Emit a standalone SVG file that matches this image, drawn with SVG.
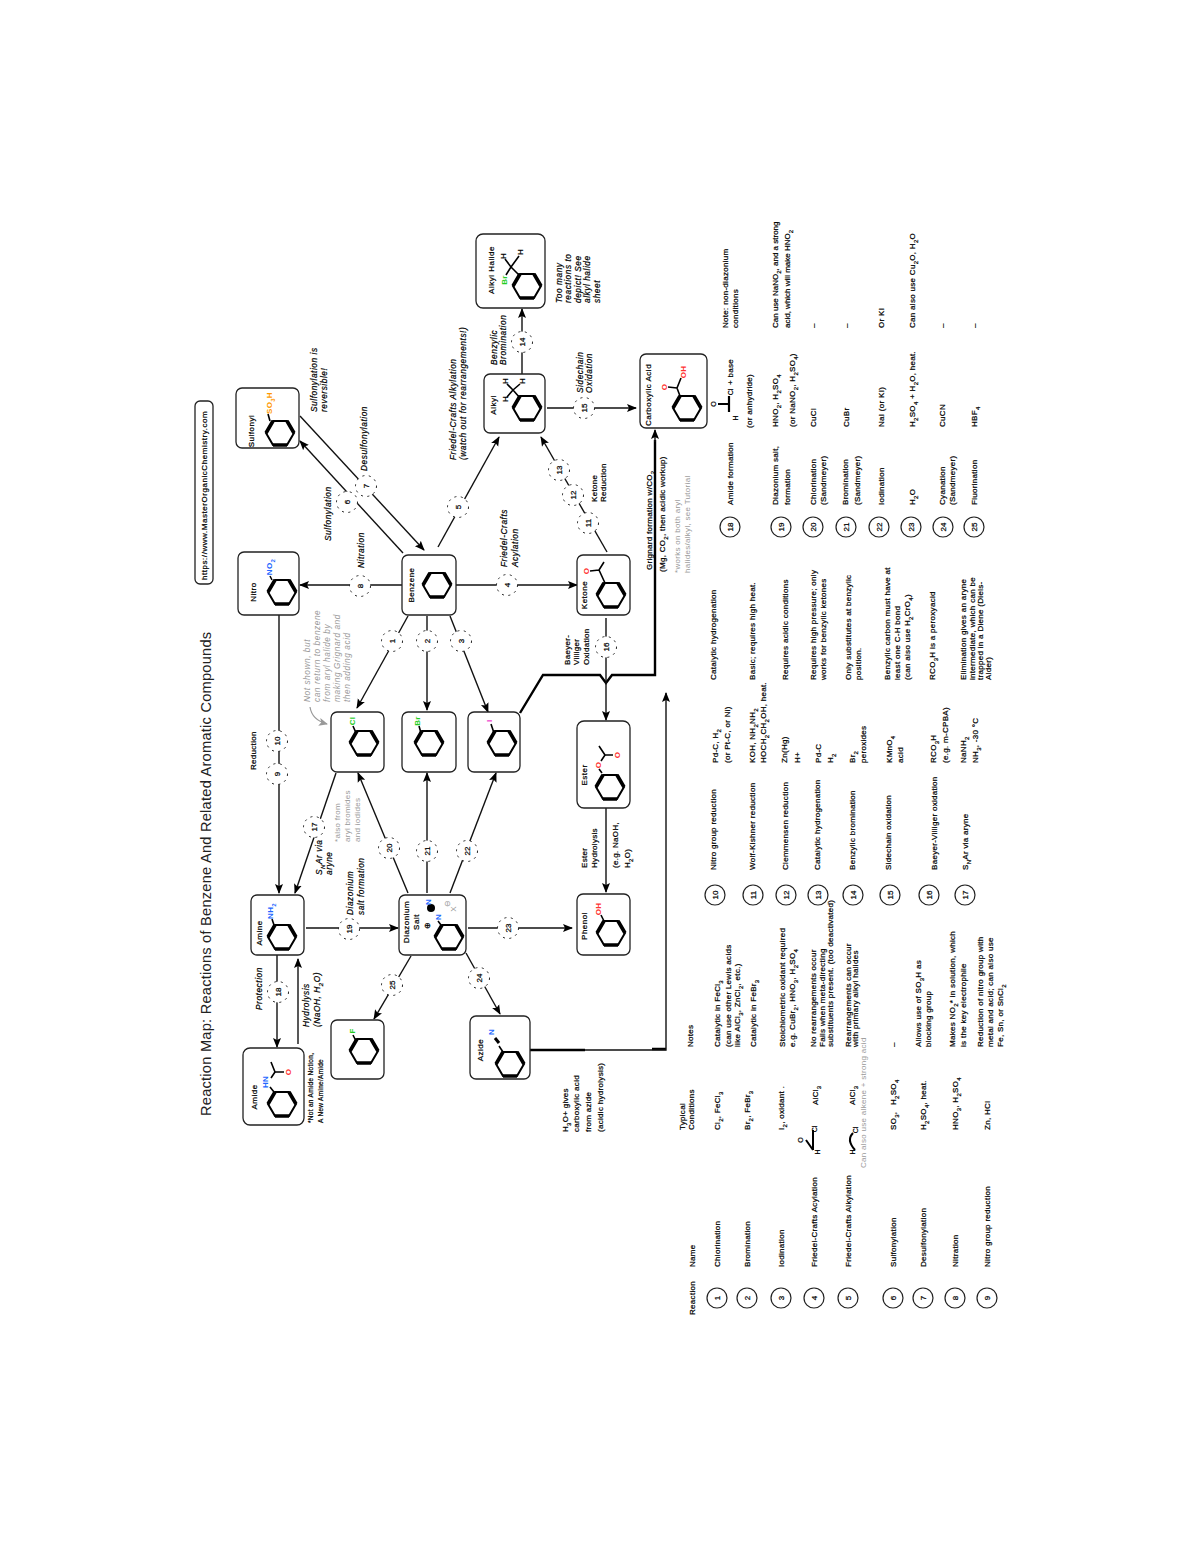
<svg xmlns="http://www.w3.org/2000/svg" xmlns:xlink="http://www.w3.org/1999/xlink" width="1200" height="1553" viewBox="0 0 1200 1553">
<style>
text{font-family:"Liberation Sans",Arial,sans-serif;font-size:8px;letter-spacing:.3px;fill:#000;stroke:#000;stroke-width:.22;transform:rotate(-90deg)}
.i{font-style:italic;letter-spacing:.55px;font-size:8.3px}
.n{letter-spacing:.5px;text-anchor:middle}
.m{text-anchor:middle;letter-spacing:0}
.g{fill:#999;stroke:none}
.s{baseline-shift:sub;font-size:6px}
.title{font-size:14.6px;letter-spacing:.25px;stroke:none;fill:#222}
.red{fill:#f33;stroke:none;font-weight:bold;text-anchor:middle}
.blue{fill:#26f;stroke:none;font-weight:bold;text-anchor:middle}
.green{fill:#2c2;stroke:none;font-weight:bold;text-anchor:middle}
.box{fill:#fff;stroke:#222;stroke-width:1.3}
.b{stroke:#000;stroke-width:1.6;fill:none}
.cn{stroke:#111;stroke-width:1.4;fill:none}
.cb{stroke:#000;stroke-width:2.4;fill:none}
.dc{fill:#fff;stroke:#222;stroke-width:1;stroke-dasharray:2 4.5}
.tc{fill:#fff;stroke:#222;stroke-width:1.2}
</style>
<defs>
<marker id="a" markerUnits="userSpaceOnUse" markerWidth="12" markerHeight="10" refX="9" refY="5" orient="auto"><path d="M0 1L10 5L0 9L2 5Z" fill="#000"/></marker>
<marker id="ag" markerUnits="userSpaceOnUse" markerWidth="12" markerHeight="10" refX="8" refY="5" orient="auto"><path d="M0 1L9 5L0 9L2 5Z" fill="#999"/></marker>
<g id="ring"><polygon points="-14,0 -7,-12 7,-12 14,0 7,12 -7,12" fill="none" stroke="#000" stroke-width="2"/><path d="M-7 12H7M7 -12L14 0M-14 0L-7 -12" stroke="#000" stroke-width="3.6" fill="none"/></g>
</defs>
<rect width="1200" height="1553" fill="#fff"/>

<g id="header">
<text class="title" x="-1116" y="211">Reaction Map: Reactions of Benzene And Related Aromatic Compounds</text>
<rect class="box" x="195" y="401" width="18" height="183" rx="5"/>
<text x="-580" y="207" style="letter-spacing:.55px">https://www.MasterOrganicChemistry.com</text>
</g>

<g id="connectors">
<path class="cn" marker-end="url(#a)" d="M402 585H300"/>
<path class="cn" marker-end="url(#a)" d="M403 553L300 441"/>
<path class="cn" marker-end="url(#a)" d="M300 416L424 550"/>
<path class="cn" marker-end="url(#a)" d="M438 547L499 437"/>
<path class="cn" marker-end="url(#a)" d="M456 585H577"/>
<path class="cn" marker-end="url(#a)" d="M522 374V309"/>
<path class="cn" marker-end="url(#a)" d="M547 408H636"/>
<path class="cn" marker-end="url(#a)" d="M607 552L541 437"/>
<path class="cn" marker-end="url(#a)" d="M279 615V893"/>
<path class="cn" marker-end="url(#a)" d="M336 773L295 893"/>
<path class="cn" marker-end="url(#a)" d="M408 893L358 773"/>
<path class="cn" marker-end="url(#a)" d="M427 893V773"/>
<path class="cn" marker-end="url(#a)" d="M450 893L496 773"/>
<path class="cn" marker-end="url(#a)" d="M408 616L357 708"/>
<path class="cn" marker-end="url(#a)" d="M427 616V710"/>
<path class="cn" marker-end="url(#a)" d="M450 616L488 712"/>
<path class="cb" d="M520 713L543 675H600L606 683L612 675H655V440"/>
<path class="cn" marker-end="url(#a)" d="M655 442V430"/>
<path class="cn" marker-end="url(#a)" d="M606 618V720"/>
<path class="cn" marker-end="url(#a)" d="M606 807V892"/>
<path class="cb" d="M530 1050H585M652 1049H666"/>
<path class="cn" marker-end="url(#a)" d="M585 1050H666V693"/>
<path class="cn" marker-end="url(#a)" d="M468 928H572"/>
<path class="cn" marker-end="url(#a)" d="M466 953L500 1014"/>
<path class="cn" marker-end="url(#a)" d="M411 956L374 1019"/>
<path class="cn" marker-end="url(#a)" d="M306 928H398"/>
<path class="cn" marker-end="url(#a)" d="M277 955V1047"/>
<path class="cn" marker-end="url(#a)" d="M298 1044V959"/>
<path fill="none" stroke="#999" stroke-width="1.2" marker-end="url(#ag)" d="M310 707Q312 720 327 724"/>
</g>

<g id="sulfonyl"><rect class="box" x="236" y="388" width="63" height="60" rx="6"/><use xlink:href="#ring" href="#ring" x="280" y="433"/><path class="b" d="M270 421L268 414"/>
<text class="n" x="-431" y="254">Sulfonyl</text><text x="-414" y="272" style="fill:#f90;stroke:none;font-weight:bold">SO<tspan class="s">3</tspan>H</text></g>
<g id="nitro"><rect class="box" x="238" y="552" width="61" height="63" rx="6"/><use xlink:href="#ring" href="#ring" x="282" y="592"/><path class="b" d="M272 580L270 576"/>
<text class="n" x="-592" y="256">Nitro</text><text class="blue" x="-567" y="272">NO<tspan class="s">2</tspan></text></g>
<g id="benzene"><rect class="box" x="402" y="555" width="54" height="60" rx="6"/><use xlink:href="#ring" href="#ring" x="437" y="585"/>
<text class="n" x="-585" y="414">Benzene</text></g>
<g id="alkylhalide"><rect class="box" x="476" y="234" width="69" height="74" rx="7"/><use xlink:href="#ring" href="#ring" x="527" y="286"/><path class="b" d="M520 276L511 267M511 267L505 259M511 267L519 256M511 267L506 275"/>
<text class="n" x="-270" y="494">Alkyl Halide</text><text class="green" x="-280" y="507">Br</text><text class="m" x="-256" y="506">H</text><text class="m" x="-252" y="523">H</text></g>
<g id="alkyl"><rect class="box" x="484" y="374" width="61" height="59" rx="6"/><use xlink:href="#ring" href="#ring" x="527" y="408"/><path class="b" d="M520 398L513 390M513 390L507 384M513 390L520 384M513 390L507 397"/>
<text class="n" x="-405" y="496">Alkyl</text><text class="m" x="-381" y="508">H</text><text class="m" x="-381" y="525">H</text><text class="m" x="-399" y="508">H</text></g>
<g id="carboxylic"><rect class="box" x="640" y="354" width="67" height="74" rx="6"/><use xlink:href="#ring" href="#ring" x="687" y="408"/><path class="b" d="M680 396L677 388M677 388L668 387M677 388L681 378"/>
<text class="n" x="-395" y="651">Carboxylic Acid</text><text class="red" x="-387" y="667">O</text><text class="red" x="-372" y="686">OH</text></g>
<g id="ketone"><rect class="box" x="577" y="555" width="53" height="60" rx="6"/><use xlink:href="#ring" href="#ring" x="611" y="595"/><path class="b" d="M605 583L599 570M599 570L590 571M599 570L604 562"/>
<text class="n" x="-595" y="587">Ketone</text><text class="red" x="-571" y="589">O</text></g>
<g id="chloro"><rect class="box" x="331" y="712" width="53" height="60" rx="6"/><use xlink:href="#ring" href="#ring" x="364" y="743"/><path class="b" d="M356 733L353 726"/>
<text class="green" x="-721" y="355">Cl</text></g>
<g id="bromo"><rect class="box" x="402" y="712" width="54" height="60" rx="6"/><use xlink:href="#ring" href="#ring" x="429" y="743"/><path class="b" d="M421 733L419 726"/>
<text class="green" x="-721" y="420">Br</text></g>
<g id="iodo"><rect class="box" x="468" y="712" width="52" height="60" rx="6"/><use xlink:href="#ring" href="#ring" x="502" y="743"/><path class="b" d="M494 733L491 724"/>
<text x="-722" y="492" style="fill:#e3c;stroke:none;font-weight:bold">I</text></g>
<g id="ester"><rect class="box" x="577" y="721" width="53" height="87" rx="7"/><use xlink:href="#ring" href="#ring" x="610" y="787"/><path class="b" d="M602 773L599 769M601 761L605 755M605 755L613 755M605 755L599 746"/>
<text class="n" x="-775" y="587">Ester</text><text class="red" x="-765" y="601">O</text><text class="red" x="-755" y="620">O</text></g>
<g id="phenol"><rect class="box" x="577" y="894" width="53" height="61" rx="6"/><use xlink:href="#ring" href="#ring" x="611" y="933"/><path class="b" d="M604 921L601 915"/>
<text class="n" x="-926" y="587">Phenol</text><text class="red" x="-909" y="601">OH</text></g>
<g id="diazonium"><rect class="box" x="399" y="895" width="67" height="60" rx="6"/><use xlink:href="#ring" href="#ring" x="449" y="937"/><path class="b" d="M441 925L438 921"/><circle cx="431" cy="908" r="4"/>
<text class="n" x="-922" y="409">Diazonium</text><text class="n" x="-922" y="419">Salt</text><text class="blue" x="-902" y="431">N</text><text class="blue" x="-917" y="441">N</text><text class="m" x="-925" y="430">⊕</text><text class="m g" x="-903" y="450">⊖</text><text class="m g" x="-909" y="456">X</text></g>
<g id="amine"><rect class="box" x="251" y="895" width="53" height="60" rx="6"/><use xlink:href="#ring" href="#ring" x="282" y="937"/><path class="b" d="M274 925L272 919"/>
<text class="n" x="-933" y="262">Amine</text><text class="blue" x="-911" y="273">NH<tspan class="s">2</tspan></text></g>
<g id="amide"><rect class="box" x="243" y="1048" width="61" height="77" rx="7"/><use xlink:href="#ring" href="#ring" x="282" y="1104"/><path class="b" d="M274 1092L270 1087M271 1078L275 1072M275 1072L284 1072M275 1072L271 1062"/>
<text class="n" x="-1097" y="257">Amide</text><text class="blue" x="-1082" y="268">HN</text><text class="red" x="-1072" y="291">O</text></g>
<g id="fluoro"><rect class="box" x="331" y="1020" width="53" height="59" rx="6"/><use xlink:href="#ring" href="#ring" x="364" y="1051"/><path class="b" d="M356 1041L353 1035"/>
<text class="green" x="-1031" y="355">F</text></g>
<g id="azide"><rect class="box" x="470" y="1016" width="60" height="63" rx="6"/><use xlink:href="#ring" href="#ring" x="510" y="1064"/><path class="b" d="M503 1052L499 1046"/><path d="M495 1038L499 1043" stroke="#000" stroke-width="3"/>
<text class="n" x="-1050" y="483">Azide</text><text class="blue" x="-1032" y="494">N</text></g>

<g id="steps">
<g><circle class="dc" cx="392" cy="641" r="10.5"/><text class="m" x="-641" y="395">1</text></g>
<g><circle class="dc" cx="427" cy="641" r="10.5"/><text class="m" x="-641" y="430">2</text></g>
<g><circle class="dc" cx="461" cy="641" r="10.5"/><text class="m" x="-641" y="464">3</text></g>
<g><circle class="dc" cx="507" cy="585" r="10.5"/><text class="m" x="-585" y="510">4</text></g>
<g><circle class="dc" cx="458" cy="507" r="10.5"/><text class="m" x="-507" y="461">5</text></g>
<g><circle class="dc" cx="347" cy="502" r="10.5"/><text class="m" x="-502" y="350">6</text></g>
<g><circle class="dc" cx="366" cy="486" r="10.5"/><text class="m" x="-486" y="369">7</text></g>
<g><circle class="dc" cx="360" cy="586" r="10.5"/><text class="m" x="-586" y="363">8</text></g>
<g><circle class="dc" cx="277" cy="774" r="10.5"/><text class="m" x="-774" y="280">9</text></g>
<g><circle class="dc" cx="277" cy="741" r="10.5"/><text class="m" x="-741" y="280">10</text></g>
<g><circle class="dc" cx="588" cy="523" r="10.5"/><text class="m" x="-523" y="591">11</text></g>
<g><circle class="dc" cx="573" cy="495" r="10.5"/><text class="m" x="-495" y="576">12</text></g>
<g><circle class="dc" cx="559" cy="470" r="10.5"/><text class="m" x="-470" y="562">13</text></g>
<g><circle class="dc" cx="522" cy="342" r="10.5"/><text class="m" x="-342" y="525">14</text></g>
<g><circle class="dc" cx="584" cy="408" r="10.5"/><text class="m" x="-408" y="587">15</text></g>
<g><circle class="dc" cx="606" cy="647" r="10.5"/><text class="m" x="-647" y="609">16</text></g>
<g><circle class="dc" cx="314" cy="827" r="10.5"/><text class="m" x="-827" y="317">17</text></g>
<g><circle class="dc" cx="278" cy="992" r="10.5"/><text class="m" x="-992" y="281">18</text></g>
<g><circle class="dc" cx="349" cy="929" r="10.5"/><text class="m" x="-929" y="352">19</text></g>
<g><circle class="dc" cx="389" cy="848" r="10.5"/><text class="m" x="-848" y="392">20</text></g>
<g><circle class="dc" cx="427" cy="851" r="10.5"/><text class="m" x="-851" y="430">21</text></g>
<g><circle class="dc" cx="467" cy="851" r="10.5"/><text class="m" x="-851" y="470">22</text></g>
<g><circle class="dc" cx="508" cy="928" r="10.5"/><text class="m" x="-928" y="511">23</text></g>
<g><circle class="dc" cx="479" cy="978" r="10.5"/><text class="m" x="-978" y="482">24</text></g>
<g><circle class="dc" cx="392" cy="985" r="10.5"/><text class="m" x="-985" y="395">25</text></g>
</g>

<g id="edge-labels">
<text class="i" x="-541" y="331">Sulfonylation</text>
<text class="i" x="-412" y="317">Sulfonylation is</text>
<text class="i" x="-412" y="327">reversible!</text>
<text class="i" x="-471" y="367">Desulfonylation</text>
<text class="i" x="-568" y="364">Nitration</text>
<text class="i" x="-460" y="456">Friedel-Crafts Alkylation</text>
<text class="i" x="-460" y="466">(watch out for rearrangements!)</text>
<text class="i" x="-365" y="497">Benzylic</text>
<text class="i" x="-365" y="506">Bromination</text>
<text class="i" x="-303" y="562">Too many</text>
<text class="i" x="-303" y="571">reactions to</text>
<text class="i" x="-303" y="581">depict! See</text>
<text class="i" x="-303" y="590">alkyl halide</text>
<text class="i" x="-303" y="600">sheet</text>
<text class="i" x="-393" y="583">Sidechain</text>
<text class="i" x="-393" y="592">Oxidation</text>
<text x="-502" y="597">Ketone</text>
<text x="-502" y="606">Reduction</text>
<text class="i" x="-567" y="507">Friedel-Crafts</text>
<text class="i" x="-567" y="518">Acylation</text>
<text x="-570" y="652">Grignard formation w/CO<tspan class="s">2</tspan></text>
<text x="-572" y="665">(Mg, CO<tspan class="s">2</tspan>, then acidic workup)</text>
<text class="g" x="-573" y="680">*works on both aryl</text>
<text class="g" x="-573" y="690">halides/alkyl, see Tutorial</text>
<text x="-665" y="570">Baeyer-</text>
<text x="-665" y="579">Villiger</text>
<text x="-665" y="589">Oxidation</text>
<text x="-868" y="587">Ester</text>
<text x="-868" y="597">Hydrolysis</text>
<text x="-868" y="618">(e.g. NaOH,</text>
<text x="-868" y="630">H<tspan class="s">2</tspan>O)</text>
<text class="i g" x="-702" y="310">Not shown, but</text>
<text class="i g" x="-702" y="320">can return to benzene</text>
<text class="i g" x="-702" y="330">from aryl halide by</text>
<text class="i g" x="-702" y="340">making Grignard and</text>
<text class="i g" x="-702" y="350">then adding acid</text>
<text x="-770" y="256">Reduction</text>
<text class="i" x="-875" y="322">S<tspan class="s">N</tspan>Ar via</text>
<text class="i" x="-875" y="332">aryne</text>
<text class="g" x="-842" y="340">*also from</text>
<text class="g" x="-842" y="350">aryl bromides</text>
<text class="g" x="-842" y="360">and iodides</text>
<text class="i" x="-915" y="353">Diazonium</text>
<text class="i" x="-915" y="364">salt formation</text>
<text class="i" x="-1010" y="262">Protection</text>
<text class="i" x="-1027" y="309">Hydrolysis</text>
<text class="i" x="-1027" y="320">(NaOH, H<tspan class="s">2</tspan>O)</text>
<text x="-1123" y="313" style="font-size:6.5px">*Not an Amide Notion,</text>
<text x="-1123" y="323" style="font-size:6.5px">A New Amine/Amide</text>
<text x="-1132" y="568">H<tspan class="s">3</tspan>O+ gives</text>
<text x="-1132" y="579">carboxylic acid</text>
<text x="-1132" y="591">from azide</text>
<text x="-1132" y="603">(acidic hydrolysis)</text>
</g>

<g id="table-1">
<text x="-1315" y="695">Reaction</text><text x="-1267" y="695">Name</text><text x="-1130" y="685">Typical</text><text x="-1130" y="694">Conditions</text><text x="-1047" y="693">Notes</text>
<g><circle class="tc" cx="717" cy="1298" r="10"/><text class="m" x="-1298" y="720">1</text><text x="-1267" y="720">Chlorination</text><text x="-1130" y="720">Cl<tspan class="s">2</tspan>, FeCl<tspan class="s">3</tspan></text><text x="-1047" y="720">Catalytic in FeCl<tspan class="s">3</tspan></text><text x="-1047" y="731">(can use other Lewis acids</text><text x="-1047" y="740">like AlCl<tspan class="s">3</tspan>, ZnCl<tspan class="s">2</tspan>, etc.)</text></g>
<g><circle class="tc" cx="747" cy="1298" r="10"/><text class="m" x="-1298" y="750">2</text><text x="-1267" y="750">Bromination</text><text x="-1130" y="750">Br<tspan class="s">2</tspan>, FeBr<tspan class="s">3</tspan></text><text x="-1047" y="756">Catalytic in FeBr<tspan class="s">3</tspan></text></g>
<g><circle class="tc" cx="781" cy="1298" r="10"/><text class="m" x="-1298" y="784">3</text><text x="-1267" y="784">Iodination</text><text x="-1130" y="784">I<tspan class="s">2</tspan>, oxidant .</text><text x="-1047" y="785">Stoichiometric oxidant required</text><text x="-1047" y="795">e.g. CuBr<tspan class="s">2</tspan>, HNO<tspan class="s">3</tspan>, H<tspan class="s">2</tspan>SO<tspan class="s">4</tspan></text></g>
<g><circle class="tc" cx="814" cy="1298" r="10"/><text class="m" x="-1298" y="817">4</text><text x="-1267" y="817">Friedel-Crafts Acylation</text><text class="m" x="-1140" y="803" style="font-size:7px">O</text><text class="m" x="-1129" y="817" style="font-size:7px">Cl</text><text class="m" x="-1152" y="820" style="font-size:7px">H</text><path d="M813 1150L806 1140M813 1130L813 1150" stroke="#000" stroke-width="2" fill="none"/><text x="-1105" y="818">AlCl<tspan class="s">3</tspan></text><text x="-1047" y="816">No rearrangements occur</text><text x="-1047" y="825">Fails when meta-directing</text><text x="-1047" y="833">substituents present. (too deactivated)</text></g>
<g><circle class="tc" cx="848" cy="1298" r="10"/><text class="m" x="-1298" y="851">5</text><text x="-1267" y="851">Friedel-Crafts Alkylation</text><path d="M855 1150Q846 1140 853 1133" stroke="#000" stroke-width="2" fill="none"/><text class="m" x="-1130" y="858" style="font-size:7px">Cl</text><text class="m" x="-1152" y="855" style="font-size:7px">H</text><text x="-1105" y="855">AlCl<tspan class="s">3</tspan></text><text x="-1047" y="851">Rearrangements can occur</text><text x="-1047" y="858">with primary alkyl halides</text></g>
<text class="g" x="-1168" y="866">Can also use alkene + strong acid</text>
<g><circle class="tc" cx="893" cy="1298" r="10"/><text class="m" x="-1298" y="896">6</text><text x="-1267" y="896">Sulfonylation</text><text x="-1130" y="896">SO<tspan class="s">3</tspan>,</text><text x="-1105" y="896">H<tspan class="s">2</tspan>SO<tspan class="s">4</tspan></text><text x="-1047" y="896">–</text></g>
<g><circle class="tc" cx="923" cy="1298" r="10"/><text class="m" x="-1298" y="926">7</text><text x="-1267" y="926">Desulfonylation</text><text x="-1130" y="926">H<tspan class="s">2</tspan>SO<tspan class="s">4</tspan>, heat.</text><text x="-1047" y="921">Allows use of SO<tspan class="s">3</tspan>H as</text><text x="-1047" y="931">blocking group</text></g>
<g><circle class="tc" cx="955" cy="1298" r="10"/><text class="m" x="-1298" y="958">8</text><text x="-1267" y="958">Nitration</text><text x="-1130" y="958">HNO<tspan class="s">3</tspan>, H<tspan class="s">2</tspan>SO<tspan class="s">4</tspan></text><text x="-1047" y="955">Makes NO<tspan class="s">2</tspan>* in solution, which</text><text x="-1047" y="966">is the key electrophile</text></g>
<g><circle class="tc" cx="987" cy="1298" r="10"/><text class="m" x="-1298" y="990">9</text><text x="-1267" y="990">Nitro group reduction</text><text x="-1130" y="990">Zn, HCl</text><text x="-1047" y="983">Reduction of nitro group with</text><text x="-1047" y="993">metal and acid; can also use</text><text x="-1047" y="1003">Fe, Sn, or SnCl<tspan class="s">2</tspan></text></g>
</g>

<g id="table-2">
<g><circle class="tc" cx="715" cy="895" r="10"/><text class="m" x="-895" y="718">10</text><text x="-870" y="716">Nitro group reduction</text><text x="-763" y="718">Pd-C, H<tspan class="s">2</tspan></text><text x="-763" y="730">(or Pt-C, or Ni)</text><text x="-680" y="716">Catalytic hydrogenation</text></g>
<g><circle class="tc" cx="753" cy="895" r="10"/><text class="m" x="-895" y="756">11</text><text x="-870" y="755">Wolf-Kishner reduction</text><text x="-763" y="755">KOH, NH<tspan class="s">2</tspan>NH<tspan class="s">2</tspan></text><text x="-763" y="766">HOCH<tspan class="s">2</tspan>CH<tspan class="s">2</tspan>OH, heat.</text><text x="-680" y="755">Basic; requires high heat.</text></g>
<g><circle class="tc" cx="786" cy="895" r="10"/><text class="m" x="-895" y="789">12</text><text x="-870" y="788">Clemmensen reduction</text><text x="-763" y="787">Zn(Hg)</text><text x="-763" y="800">H+</text><text x="-680" y="788">Requires acidic conditions</text></g>
<g><circle class="tc" cx="818" cy="895" r="10"/><text class="m" x="-895" y="821">13</text><text x="-870" y="820">Catalytic hydrogenation</text><text x="-763" y="821">Pd-C</text><text x="-763" y="833">H<tspan class="s">2</tspan></text><text x="-680" y="816">Requires high pressure; only</text><text x="-680" y="826">works for benzylic ketones</text></g>
<g><circle class="tc" cx="853" cy="895" r="10"/><text class="m" x="-895" y="856">14</text><text x="-870" y="855">Benzylic bromination</text><text x="-763" y="855">Br<tspan class="s">2</tspan></text><text x="-763" y="866">peroxides</text><text x="-680" y="851">Only substitutes at benzylic</text><text x="-680" y="861">position.</text></g>
<g><circle class="tc" cx="890" cy="895" r="10"/><text class="m" x="-895" y="893">15</text><text x="-870" y="891">Sidechain oxidation</text><text x="-763" y="892">KMnO<tspan class="s">4</tspan></text><text x="-763" y="903">acid</text><text x="-680" y="890">Benzylic carbon must have at</text><text x="-680" y="900">least one C-H bond</text><text x="-680" y="910">(can also use H<tspan class="s">2</tspan>CrO<tspan class="s">4</tspan>)</text></g>
<g><circle class="tc" cx="929" cy="895" r="10"/><text class="m" x="-895" y="932">16</text><text x="-870" y="937">Baeyer-Villiger oxidation</text><text x="-763" y="936">RCO<tspan class="s">3</tspan>H</text><text x="-763" y="948">(e.g. m-CPBA)</text><text x="-680" y="935">RCO<tspan class="s">3</tspan>H is a peroxyacid</text></g>
<g><circle class="tc" cx="965" cy="895" r="10"/><text class="m" x="-895" y="968">17</text><text x="-870" y="968">S<tspan class="s">N</tspan>Ar via aryne</text><text x="-763" y="966">NaNH<tspan class="s">2</tspan></text><text x="-763" y="978">NH<tspan class="s">3</tspan>, -30 °C</text><text x="-680" y="966">Elimination gives an aryne</text><text x="-680" y="975">intermediate, which can be</text><text x="-680" y="983">trapped in a Diene (Diels-</text><text x="-680" y="991">Alder)</text></g>
</g>

<g id="table-3">
<g><circle class="tc" cx="730" cy="527" r="10"/><text class="m" x="-527" y="733">18</text><text x="-505" y="733">Amide formation</text><path d="M729 412V396M729 404H718" stroke="#000" stroke-width="2.2" fill="none"/><text class="m" x="-404" y="716" style="font-size:7px">O</text><text class="m" x="-392" y="733" style="font-size:7px">Cl</text><text class="m" x="-418" y="738" style="font-size:7px">H</text><text x="-385" y="733">+ base</text><text x="-428" y="752">(or anhydride)</text><text x="-328" y="728">Note: non-diazonium</text><text x="-328" y="738">conditions</text></g>
<g><circle class="tc" cx="781" cy="527" r="10"/><text class="m" x="-527" y="784">19</text><text x="-505" y="778">Diazonium salt,</text><text x="-505" y="790">formation</text><text x="-427" y="778">HNO<tspan class="s">2</tspan>, H<tspan class="s">2</tspan>SO<tspan class="s">4</tspan></text><text x="-427" y="795">(or NaNO<tspan class="s">2</tspan>, H<tspan class="s">2</tspan>SO<tspan class="s">4</tspan>)</text><text x="-328" y="778" style="letter-spacing:0">Can use NaNO<tspan class="s">2</tspan>, and a strong</text><text x="-328" y="790" style="letter-spacing:0">acid, which will make HNO<tspan class="s">2</tspan></text></g>
<g><circle class="tc" cx="813" cy="527" r="10"/><text class="m" x="-527" y="816">20</text><text x="-505" y="816">Chlorination</text><text x="-505" y="826">(Sandmeyer)</text><text x="-427" y="816">CuCl</text><text x="-328" y="816">–</text></g>
<g><circle class="tc" cx="846" cy="527" r="10"/><text class="m" x="-527" y="849">21</text><text x="-505" y="848">Bromination</text><text x="-505" y="860">(Sandmeyer)</text><text x="-427" y="849">CuBr</text><text x="-328" y="849">–</text></g>
<g><circle class="tc" cx="879" cy="527" r="10"/><text class="m" x="-527" y="882">22</text><text x="-505" y="884">Iodination</text><text x="-427" y="884">NaI (or KI)</text><text x="-328" y="884">Or KI</text></g>
<g><circle class="tc" cx="911" cy="527" r="10"/><text class="m" x="-527" y="914">23</text><text x="-505" y="915">H<tspan class="s">2</tspan>O</text><text x="-427" y="915">H<tspan class="s">2</tspan>SO<tspan class="s">4</tspan> + H<tspan class="s">2</tspan>O, heat.</text><text x="-328" y="915">Can also use Cu<tspan class="s">2</tspan>O, H<tspan class="s">2</tspan>O</text></g>
<g><circle class="tc" cx="943" cy="527" r="10"/><text class="m" x="-527" y="946">24</text><text x="-505" y="945">Cyanation</text><text x="-505" y="955">(Sandmeyer)</text><text x="-427" y="945">CuCN</text><text x="-328" y="945">–</text></g>
<g><circle class="tc" cx="974" cy="527" r="10"/><text class="m" x="-527" y="977">25</text><text x="-505" y="977">Fluorination</text><text x="-427" y="977">HBF<tspan class="s">4</tspan></text><text x="-328" y="977">–</text></g>
</g>
</svg>
